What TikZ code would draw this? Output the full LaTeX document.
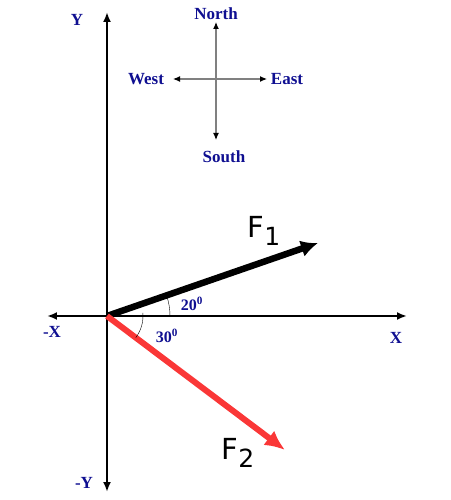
\documentclass[tikz,border=0pt]{standalone}
\usepackage{fontspec}
\setmainfont{Liberation Serif}
\newfontfamily\forcefont{DejaVu Sans}
\usetikzlibrary{arrows.meta}
\definecolor{labelblue}{RGB}{15,15,145}
\definecolor{forcered}{RGB}{250,55,55}
\newcommand{\forcename}[1]{F\raisebox{-8pt}{\fontsize{25}{27}\selectfont #1}}
\tikzset{
  axis/.style={line width=2pt, {Latex[length=10pt,width=8pt]}-{Latex[length=10pt,width=8pt]}},
  compass/.style={line width=1.1pt, -{Latex[length=7pt,width=6pt,color=black]}, black!50},
  lbl/.style={text=labelblue, font=\bfseries\fontsize{17}{19}\selectfont, inner sep=0pt},
  anglbl/.style={text=labelblue, font=\bfseries\fontsize{16}{18}\selectfont, inner sep=0pt},
  forcelbl/.style={font=\forcefont\fontsize{29}{31}\selectfont, inner sep=0pt},
}
\begin{document}
\begin{tikzpicture}[x=1pt, y=1pt]
\useasboundingbox (-107,-184) rectangle (343,316);
% Axes
\coordinate (O) at (0,0);
\coordinate (xr) at (300,0);
\coordinate (xl) at (-60,0);
\coordinate (yt) at (0,304);
\coordinate (yb) at (0,-176);
\draw[axis] (xl) -- (xr);
\draw[axis] (yb) -- (yt);
\node[lbl] (X) at (289,-22) {X};
\node[lbl] (mX) at (-55,-16) {-X};
\node[lbl] (Y) at (-30,296) {Y};
\node[lbl] (mY) at (-23,-167) {-Y};

% Compass
\coordinate (C) at (109,237);
\coordinate (cn) at (109,294);
\coordinate (cs) at (109,176);
\coordinate (cw) at (66,237);
\coordinate (ce) at (160,237);
\draw[compass] (C) -- (cn);
\draw[compass] (C) -- (cs);
\draw[compass] (C) -- (cw);
\draw[compass] (C) -- (ce);
\node[lbl] (north) at (109,302) {North};
\node[lbl] (south) at (117,159) {South};
\node[lbl] (west) at (39,237) {West};
\node[lbl] (east) at (180,237) {East};

% Forces
\coordinate (f1) at (211,73);
\coordinate (f2) at (178,-134);
\draw[line width=6.5pt, -{Latex[length=17pt,width=17pt]}] (O) -- (f1);
\draw[forcered, line width=6pt, -{Latex[length=20pt,width=18pt]}] (O) -- (f2);
\node[forcelbl] (F1) at (157,85) {\forcename{1}};
\node[forcelbl] (F2) at (131,-137) {\forcename{2}};

% Angles
\draw[thin] (63,0) arc[start angle=0, end angle=19, radius=63];
\draw[thin] (5:36) arc[start angle=5, end angle=-37, radius=36];
\node[anglbl] (a20) at (85,12) {20\textsuperscript{0}};
\node[anglbl] (a30) at (60,-20) {30\textsuperscript{0}};
\end{tikzpicture}
\end{document}
